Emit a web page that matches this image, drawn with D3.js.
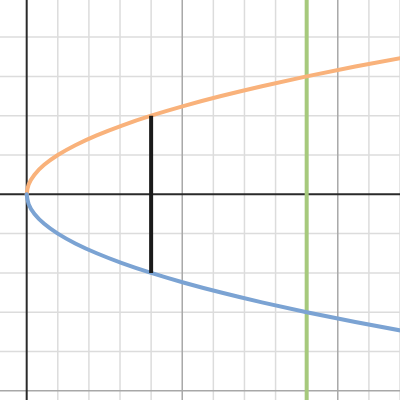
<!DOCTYPE html>
<html>
<head>
<meta charset="utf-8">
<script src="https://cdn.jsdelivr.net/npm/d3@7"></script>
<style>
html,body{margin:0;padding:0;background:#fff;}
svg{display:block;}
</style>
</head>
<body>
<svg id="chart" width="400" height="400"></svg>
<script>
// Grid values (units)
const xGrid = [-1,0,1,2,3,4,5,6,7,8,9,10,11,12];
const yGrid = [-5,-4,-3,-2,-1,0,1,2,3,4,5];
// Upper branch (orange) points: [x, y]
const upperX = [0, 0.0625, 0.25, 0.5625, 1, 1.5625, 2.25, 3.0625, 4, 5.0625, 6.25, 7.5625, 9, 10.5625, 12.25];
const upperY = [0, 0.25, 0.5, 0.75, 1, 1.25, 1.5, 1.75, 2, 2.25, 2.5, 2.75, 3, 3.25, 3.5];
// Lower branch (blue)
const lowerX = [0, 0.0625, 0.25, 0.5625, 1, 1.5625, 2.25, 3.0625, 4, 5.0625, 6.25, 7.5625, 9, 10.5625, 12.25];
const lowerY = [0, -0.25, -0.5, -0.75, -1, -1.25, -1.5, -1.75, -2, -2.25, -2.5, -2.75, -3, -3.25, -3.5];
// Black segment at x = 4 from y = -2 to 2
const segX = [4, 4];
const segY = [-2, 2];
// Green vertical line x = 9
const greenX = [9];

const W = 400, H = 400;
const x = d3.scaleLinear().domain([-0.858, 12.0]).range([0, W]);
const y = d3.scaleLinear().domain([-5.234, 4.944]).range([H, 0]);

const svg = d3.select("#chart");

// minor grid
const g = svg.append("g");
g.selectAll("line.vx").data(xGrid.filter(d => d !== 0 && d % 5 !== 0)).join("line")
  .attr("x1", d => x(d)).attr("x2", d => x(d)).attr("y1", 0).attr("y2", H)
  .attr("stroke", "#dcdcdc").attr("stroke-width", 1.5);
g.selectAll("line.hy").data(yGrid.filter(d => d !== 0 && d % 5 !== 0)).join("line")
  .attr("y1", d => y(d)).attr("y2", d => y(d)).attr("x1", 0).attr("x2", W)
  .attr("stroke", "#dcdcdc").attr("stroke-width", 1.5);
// major grid
const gm = svg.append("g");
gm.selectAll("line").data(xGrid.filter(d => d !== 0 && d % 5 === 0)).join("line")
  .attr("x1", d => x(d)).attr("x2", d => x(d)).attr("y1", 0).attr("y2", H)
  .attr("stroke", "#a8a8a8").attr("stroke-width", 1.5);
const gm2 = svg.append("g");
gm2.selectAll("line").data(yGrid.filter(d => d !== 0 && d % 5 === 0)).join("line")
  .attr("y1", d => y(d)).attr("y2", d => y(d)).attr("x1", 0).attr("x2", W)
  .attr("stroke", "#a8a8a8").attr("stroke-width", 1.5);
// axes
svg.append("line").attr("x1", x(0)).attr("x2", x(0)).attr("y1", 0).attr("y2", H)
  .attr("stroke", "#2a2a2a").attr("stroke-width", 2);
svg.append("line").attr("y1", y(0)).attr("y2", y(0)).attr("x1", 0).attr("x2", W)
  .attr("stroke", "#2a2a2a").attr("stroke-width", 2);

// green line
svg.selectAll("line.green").data(greenX).join("line").attr("class", "green")
  .attr("x1", d => x(d)).attr("x2", d => x(d)).attr("y1", 0).attr("y2", H)
  .attr("stroke", "#a6c97c").attr("stroke-width", 4);

const line = d3.line().x(d => x(d[0])).y(d => y(d[1])).curve(d3.curveMonotoneY);
svg.append("path").datum(upperX.map((v, i) => [v, upperY[i]]))
  .attr("d", line).attr("fill", "none").attr("stroke", "#f9b27b").attr("stroke-width", 4)
  .attr("stroke-linecap", "round");
const line2 = d3.line().x(d => x(d[0])).y(d => y(d[1])).curve(d3.curveNatural);
svg.append("path").datum(lowerX.map((v, i) => [v, lowerY[i]]))
  .attr("d", line2).attr("fill", "none").attr("stroke", "#7ba3d3").attr("stroke-width", 4)
  .attr("stroke-linecap", "round");

// black segment
svg.append("line").attr("x1", x(segX[0])).attr("x2", x(segX[1]))
  .attr("y1", y(segY[0])).attr("y2", y(segY[1]))
  .attr("stroke", "#1a1a1a").attr("stroke-width", 4);
</script>
</body>
</html>
